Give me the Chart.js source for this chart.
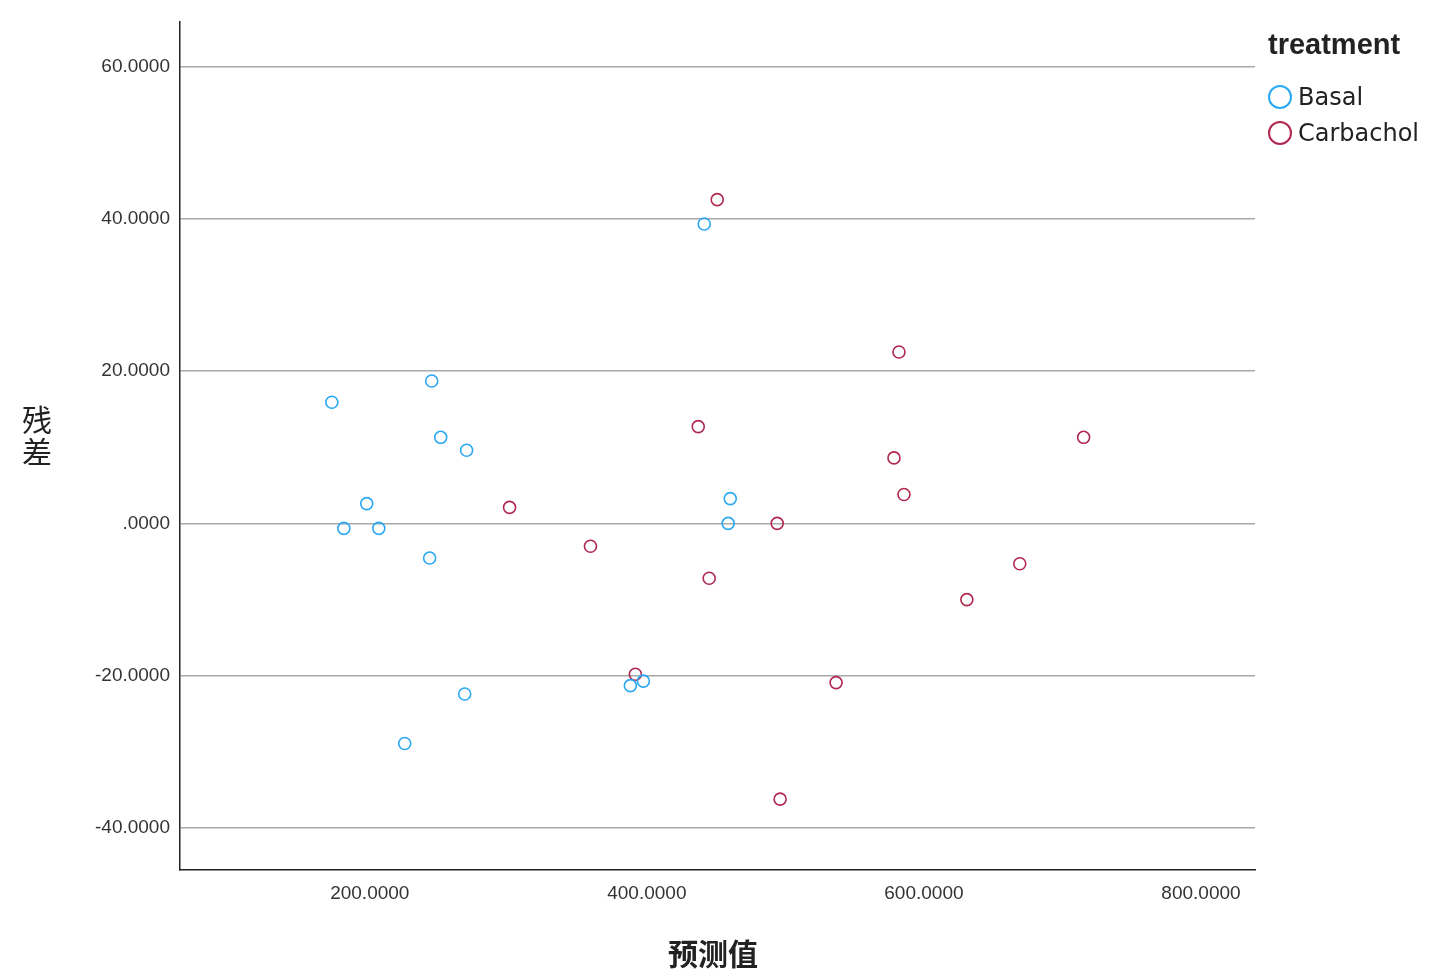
<!DOCTYPE html>
<html>
<head>
<meta charset="utf-8">
<script src="https://cdn.jsdelivr.net/npm/chart.js@4"></script>
<style>
  body { margin: 0; background: #fff; font-family: "Liberation Sans", Arial, sans-serif; }
  #wrap { position: relative; width: 1440px; height: 980px; }
  #yTitle { position: absolute; left: 20px; top: 402px; width: 34px; font: 30px "Noto Sans CJK SC"; line-height: 32px; color: #222; text-align: center; }
  #xTitle { position: absolute; left: 668px; top: 930px; font: bold 30px "Noto Sans CJK SC"; color: #222; }
  #legend { position: absolute; left: 1268px; top: 28px; color: #222; }
  #legend .t { font: bold 29px "Liberation Sans", Arial, sans-serif; margin-bottom: 18px; }
  #legend .r { font: 24px "DejaVu Sans", sans-serif; display: flex; align-items: center; height: 36px; }
  #legend .c { width: 24px; height: 24px; border-radius: 50%; border: 2px solid; margin-right: 6px; box-sizing: border-box; }
</style>
</head>
<body>
<div id="wrap">
  <canvas id="chart" width="1440" height="980"></canvas>
  <div id="yTitle">残<br>差</div>
  <div id="xTitle">预测值</div>
  <div id="legend">
    <div class="t">treatment</div>
    <div class="r"><span class="c" style="border-color:#2aa8f2"></span>Basal</div>
    <div class="r"><span class="c" style="border-color:#b0284f"></span>Carbachol</div>
  </div>
</div>
<script>
// Basal
const basalX = [172.6, 244.7, 251.2, 269.9, 197.8, 181.3, 206.5, 243.2, 268.5, 225.2, 441.4, 460.2, 458.7, 388.1, 397.5];
const basalY = [15.9, 18.7, 11.3, 9.6, 2.6, -0.65, -0.65, -4.55, -22.4, -28.9, 39.3, 3.25, 0, -21.3, -20.7];
// Carbachol
const carbX = [450.8, 582.0, 437.1, 715.3, 578.4, 585.6, 300.9, 494.1, 359.3, 445.0, 669.2, 631.0, 391.7, 536.6, 496.2];
const carbY = [42.5, 22.5, 12.7, 11.3, 8.6, 3.8, 2.1, 0, -3.0, -7.2, -5.3, -10.0, -19.8, -20.9, -36.2];
const xTicks = [200, 400, 600, 800];
const yTicks = [-40, -20, 0, 20, 40, 60];

function toPoints(xs, ys) {
    return xs.map((x, i) => ({ x: x, y: ys[i] }));
}

function fmt(v) {
    return v === 0 ? '.0000' : v.toFixed(4);
}

const config = {
    type: 'scatter',
    data: {
        datasets: [
            { label: 'Basal', data: toPoints(basalX, basalY), borderColor: '#2aa8f2', backgroundColor: 'rgba(0,0,0,0)', borderWidth: 1.6, pointRadius: 6 },
            { label: 'Carbachol', data: toPoints(carbX, carbY), borderColor: '#b0284f', backgroundColor: 'rgba(0,0,0,0)', borderWidth: 1.6, pointRadius: 6 }
        ]
    },
    options: {
        responsive: false,
        animation: false,
        layout: { padding: { left: 0, right: 185, top: 8, bottom: 0 } },
        plugins: { legend: { display: false }, tooltip: { enabled: false } },
        scales: {
            x: {
                type: 'linear', min: 63, max: 839,
                afterBuildTicks: s => { s.ticks = xTicks.map(v => ({ value: v })); },
                afterFit: s => { s.height = 110; },
                grid: { display: false, drawTicks: false },
                border: { color: '#222', width: 1.5 },
                ticks: { callback: fmt, color: '#333', font: { size: 19, family: 'Liberation Sans' }, padding: 12, maxRotation: 0 }
            },
            y: {
                type: 'linear', min: -45.5, max: 65.9,
                afterBuildTicks: s => { s.ticks = yTicks.map(v => ({ value: v })); },
                afterFit: s => { s.width = 180; },
                grid: { color: '#a8a8a8', lineWidth: 1.5, drawTicks: false },
                border: { color: '#222', width: 1.5 },
                ticks: { callback: fmt, color: '#333', font: { size: 19, family: 'Liberation Sans' }, padding: 10 }
            }
        }
    }
};

const chart = new Chart(document.getElementById('chart'), config);
</script>
</body>
</html>
